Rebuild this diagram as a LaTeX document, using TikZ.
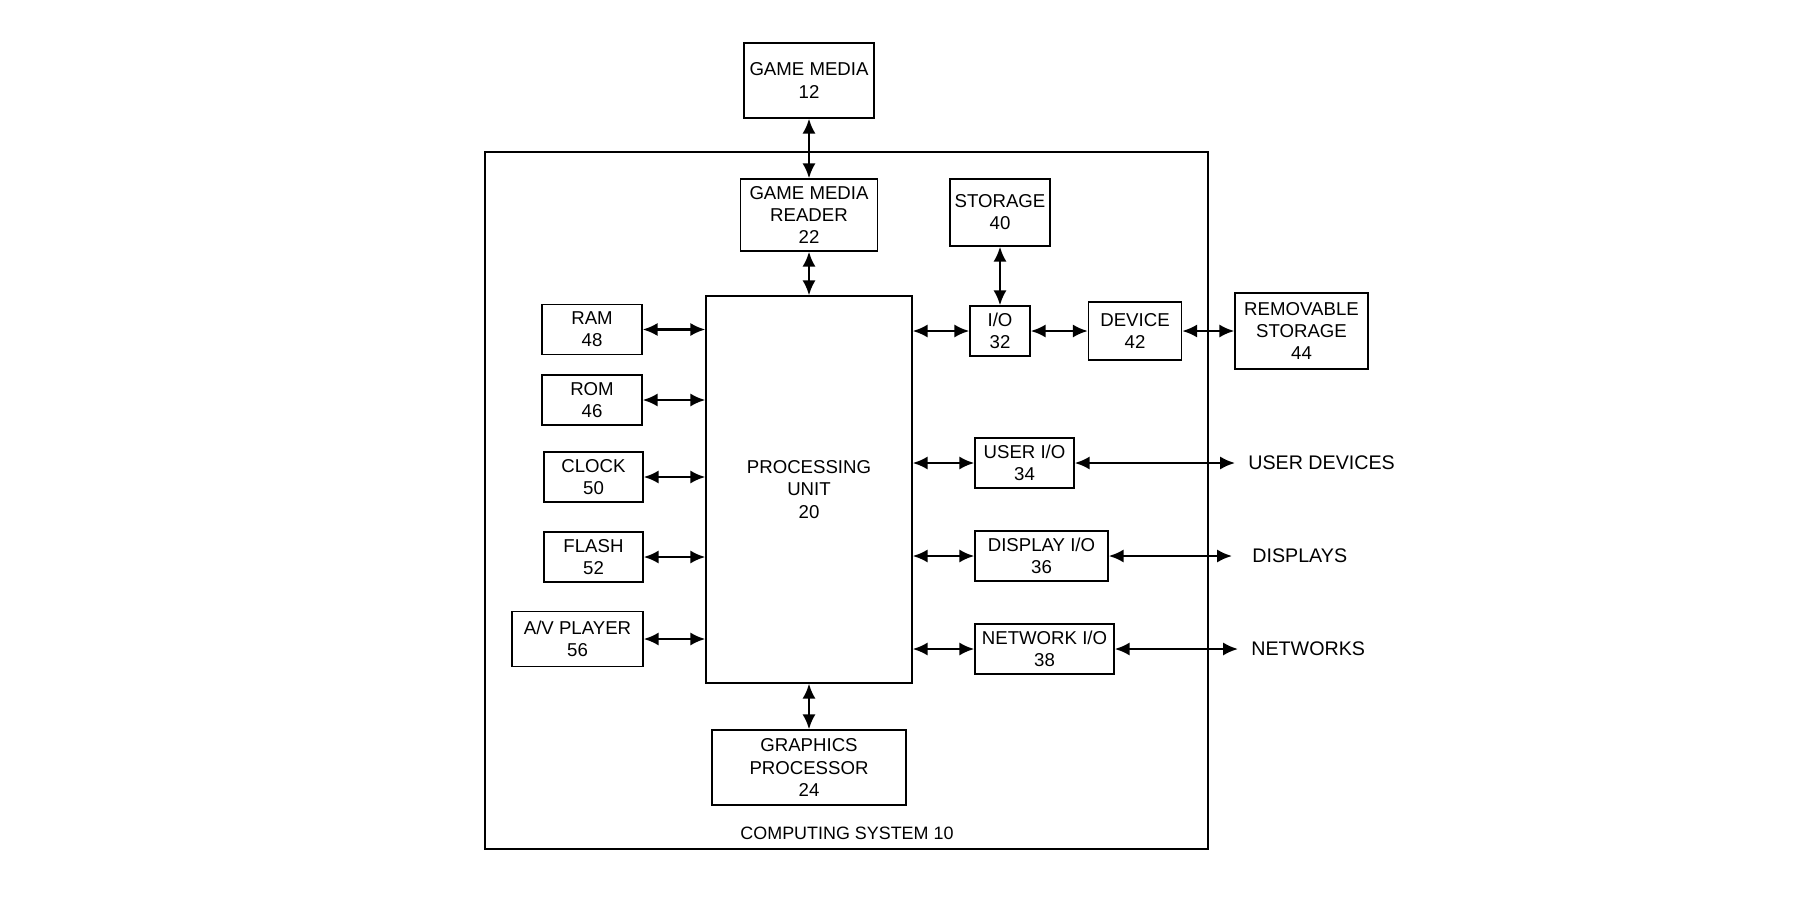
\documentclass[tikz,border=0pt]{standalone}
\usepackage{fontspec}
\setmainfont{Liberation Sans}
\usetikzlibrary{arrows.meta,positioning}

\tikzset{
  blk/.style={draw, line width=0.85pt, align=center, inner sep=1pt, font=\fontsize{10.6}{12.6}\selectfont},
  link/.style={{Latex[length=8.5pt,width=7.5pt]}-{Latex[length=8.5pt,width=7.5pt]}, line width=1.3pt},
  ext/.style={anchor=west, inner ysep=0pt, inner xsep=0.26cm, font=\fontsize{11.2}{13}\selectfont},
}

\begin{document}
\begin{tikzpicture}[x=0.02cm, y=-0.02cm]
    \useasboundingbox (0,0) rectangle (1800,900);

    \node [blk, minimum width=14.46cm, minimum height=13.94cm] (system) at (846.5,500.5) {};
    \node [font=\fontsize{10.2}{12}\selectfont] (systemlabel) at (847,833) {COMPUTING SYSTEM 10};

    \node [blk, minimum width=2.6cm, minimum height=1.5cm] (gamemedia) at (809,80.5) {GAME MEDIA\\12};
    \node [blk, minimum width=2.74cm, minimum height=1.44cm] (reader) at (809,215) {GAME MEDIA\\READER\\22};
    \node [blk, minimum width=2.0cm, minimum height=1.34cm] (storage) at (1000,212.5) {STORAGE\\40};
    \node [blk, minimum width=4.12cm, minimum height=7.74cm] (pu) at (809,489.5) {PROCESSING\\UNIT\\20};
    \node [blk, minimum width=3.88cm, minimum height=1.5cm] (graphics) at (809,767.5) {GRAPHICS\\PROCESSOR\\24};

    \node [blk, minimum width=2.0cm, minimum height=1.0cm] (ram) at (592,329.5) {RAM\\48};
    \node [blk, minimum width=2.0cm, minimum height=1.0cm] (rom) at (592,400) {ROM\\46};
    \node [blk, minimum width=1.98cm, minimum height=1.0cm] (clock) at (593.5,477) {CLOCK\\50};
    \node [blk, minimum width=1.98cm, minimum height=1.0cm] (flash) at (593.5,557) {FLASH\\52};
    \node [blk, minimum width=2.62cm, minimum height=1.1cm] (avplayer) at (577.5,639) {A/V PLAYER\\56};

    \node [blk, minimum width=1.2cm, minimum height=1.0cm] (io) at (1000,331) {I/O\\32};
    \node [blk, minimum width=1.86cm, minimum height=1.16cm] (device) at (1135,331) {DEVICE\\42};
    \node [blk, minimum width=2.66cm, minimum height=1.52cm] (removable) at (1301.5,331) {REMOVABLE\\STORAGE\\44};
    \node [blk, minimum width=1.98cm, minimum height=1.0cm] (userio) at (1024.5,463) {USER I/O\\34};
    \node [blk, minimum width=2.66cm, minimum height=1.0cm] (displayio) at (1041.5,556) {DISPLAY I/O\\36};
    \node [blk, minimum width=2.78cm, minimum height=1.0cm] (netio) at (1044.5,649) {NETWORK I/O\\38};

    \node [ext] (userdevices) at (1235,463) {USER DEVICES};
    \node [ext, inner xsep=0.4cm] (displays) at (1232,556) {DISPLAYS};
    \node [ext] (networks) at (1238,649) {NETWORKS};

    \draw [link] (gamemedia.south) -- (reader.north);
    \draw [link] (reader.south) -- (pu.north);
    \draw [link] (pu.south) -- (graphics.north);
    \draw [link] (storage.south) -- (io.north);

    \draw [link] (ram.east) -- (ram.east -| pu.west);
    \draw [link] (rom.east) -- (rom.east -| pu.west);
    \draw [link] (clock.east) -- (clock.east -| pu.west);
    \draw [link] (flash.east) -- (flash.east -| pu.west);
    \draw [link] (avplayer.east) -- (avplayer.east -| pu.west);

    \draw [link] (io.west -| pu.east) -- (io.west);
    \draw [link] (io.east) -- (device.west);
    \draw [link] (device.east) -- (removable.west);
    \draw [link] (userio.west -| pu.east) -- (userio.west);
    \draw [link] (displayio.west -| pu.east) -- (displayio.west);
    \draw [link] (netio.west -| pu.east) -- (netio.west);

    \draw [link] (userio.east) -- (userdevices.west);
    \draw [link] (displayio.east) -- (displays.west);
    \draw [link] (netio.east) -- (networks.west);
\end{tikzpicture}
\end{document}
